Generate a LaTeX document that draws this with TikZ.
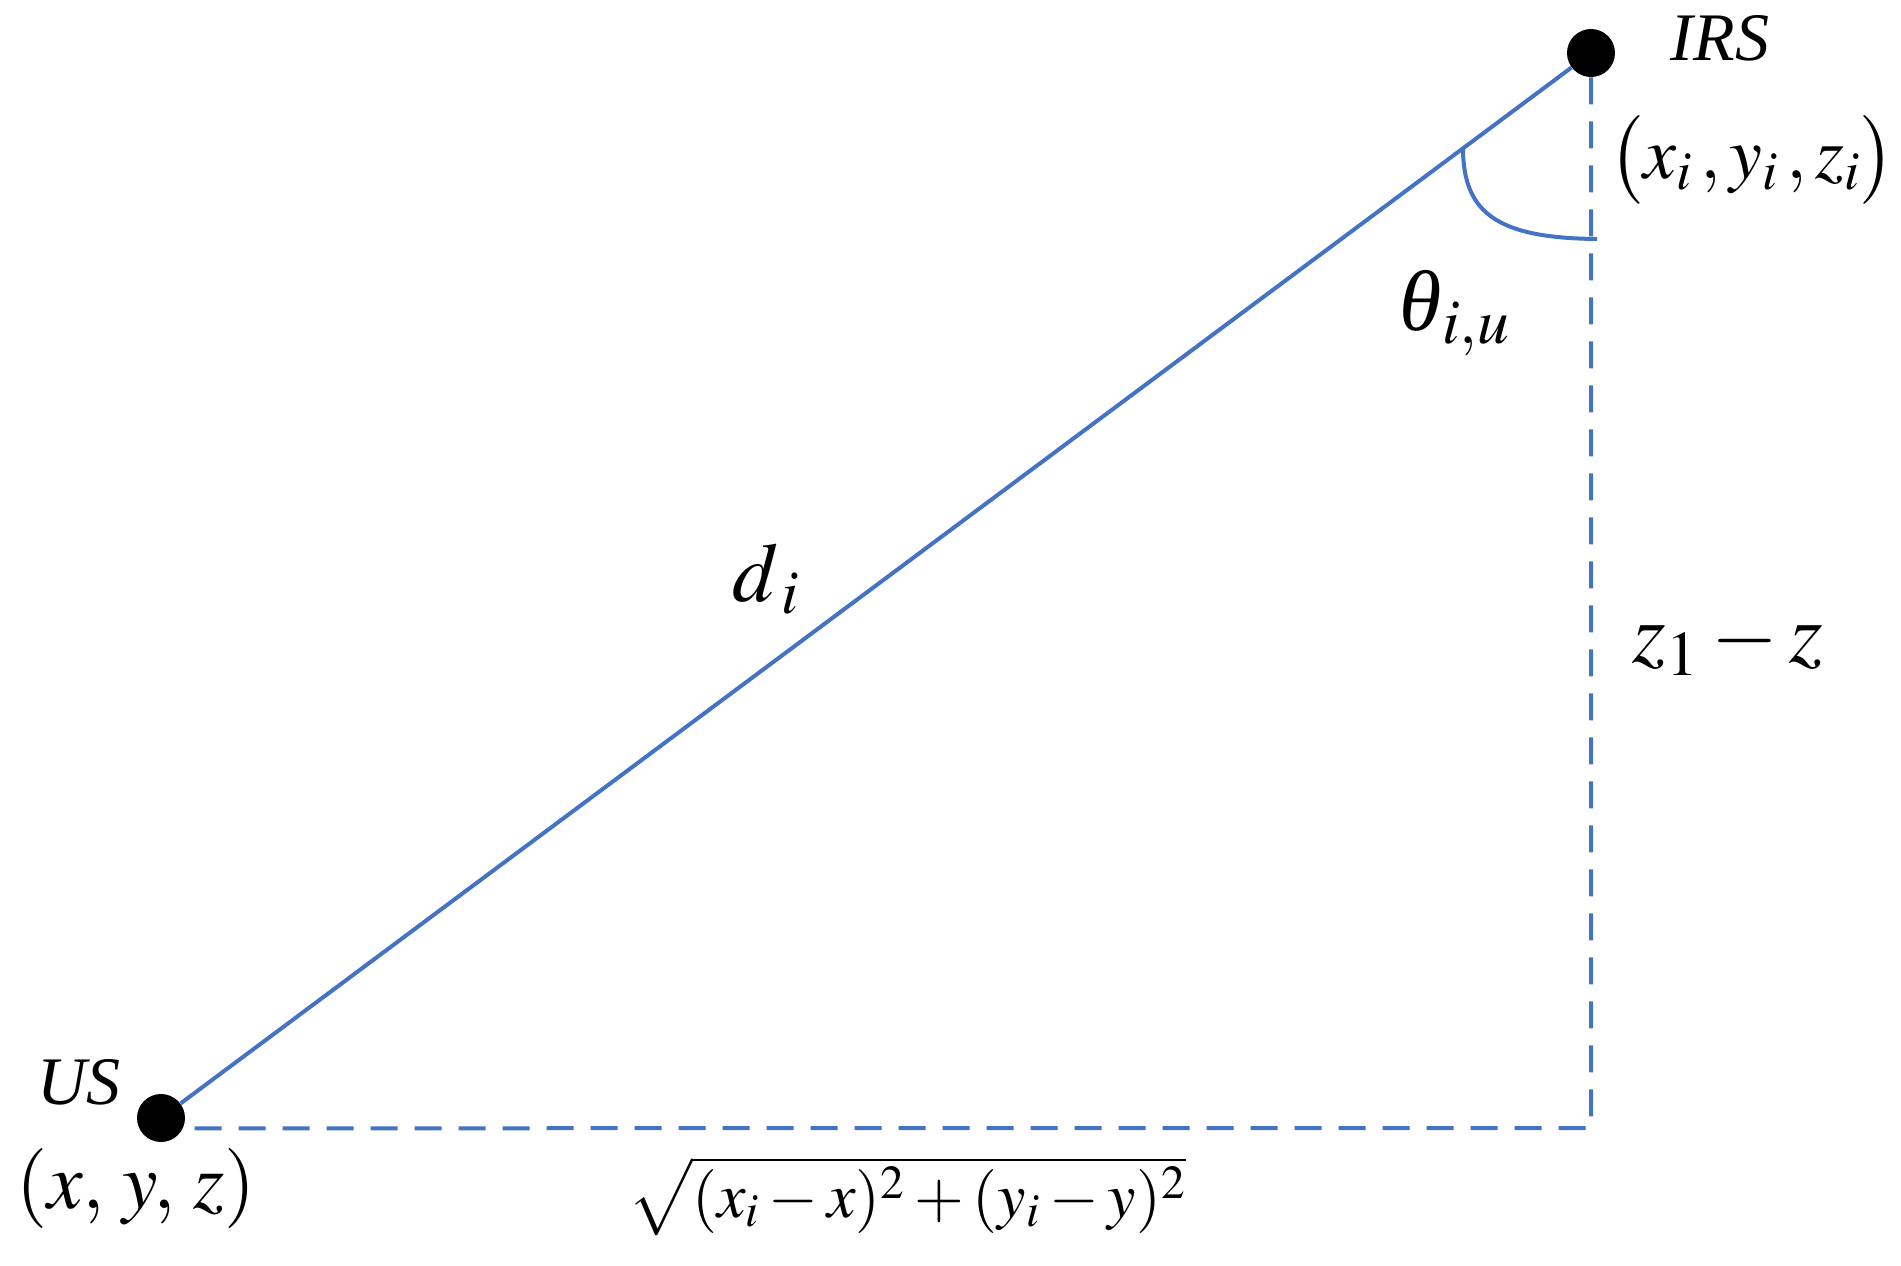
\documentclass[tikz,border=0pt]{standalone}
\usepackage{mathptmx}
\usepackage[no-math]{fontspec}
\setmainfont{Liberation Serif}
\usepackage{tikz}
\definecolor{lineblue}{RGB}{68,114,196}

\begin{document}
\begin{tikzpicture}
[every node/.style={inner sep=0pt}]
\useasboundingbox (0pt, 0pt) rectangle (950.5pt, -632.5pt);
\node (IRS) [circle, minimum size=24.0pt, fill=black] at (795.5pt, -26.5pt) {};
\node (US) [circle, minimum size=24.0pt, fill=black] at (80.5pt, -559.0pt) {};
\coordinate (corner) at (795.5pt, -564.0pt);
\coordinate (arcstart) at (731.5pt, -74.0pt);
\coordinate (arcend) at (798.5pt, -119.5pt);
\node (IRSname) at (860.0pt, -19.0pt) {\fontsize{34}{40}\selectfont\textit{IRS}};
\node (IRSpos) at (876.0pt, -80.0pt) {\fontsize{37}{44}\selectfont$\bigl(x_{i}\,,y_{i}\,,z_{i}\bigr)$};
\node (USname) at (39.5pt, -541.0pt) {\fontsize{34}{40}\selectfont\textit{US}};
\node (USpos) at (68.0pt, -594.0pt) {\fontsize{40}{48}\selectfont$(x,\,y,\,z)$};
\node (theta) at (727.5pt, -156.5pt) {\fontsize{43}{50}\selectfont$\textit{θ}_{i,u}$};
\node (dist) at (383.0pt, -289.5pt) {\fontsize{42}{50}\selectfont$d_{\,i}$};
\node (height) at (864.0pt, -322.0pt) {\fontsize{43}{50}\selectfont$z_{1}-z$};
\node (ground) at (453.5pt, -598.0pt) {\fontsize{32}{38}\selectfont$\sqrt{(x_{i}-x)^{2}+(y_{i}-y)^{2}}$};
\draw [line width=2.0pt, color=lineblue] (US) to (IRS);
\draw [line width=2.0pt, color=lineblue, dash pattern=on 13.5pt off 8.5pt] (IRS) to (corner) to (US.-25);
\draw [line width=2.0pt, color=lineblue] (arcstart) .. controls (731.5pt, -107.5pt) and (750.0pt, -119.0pt) .. (arcend);
\end{tikzpicture}
\end{document}
